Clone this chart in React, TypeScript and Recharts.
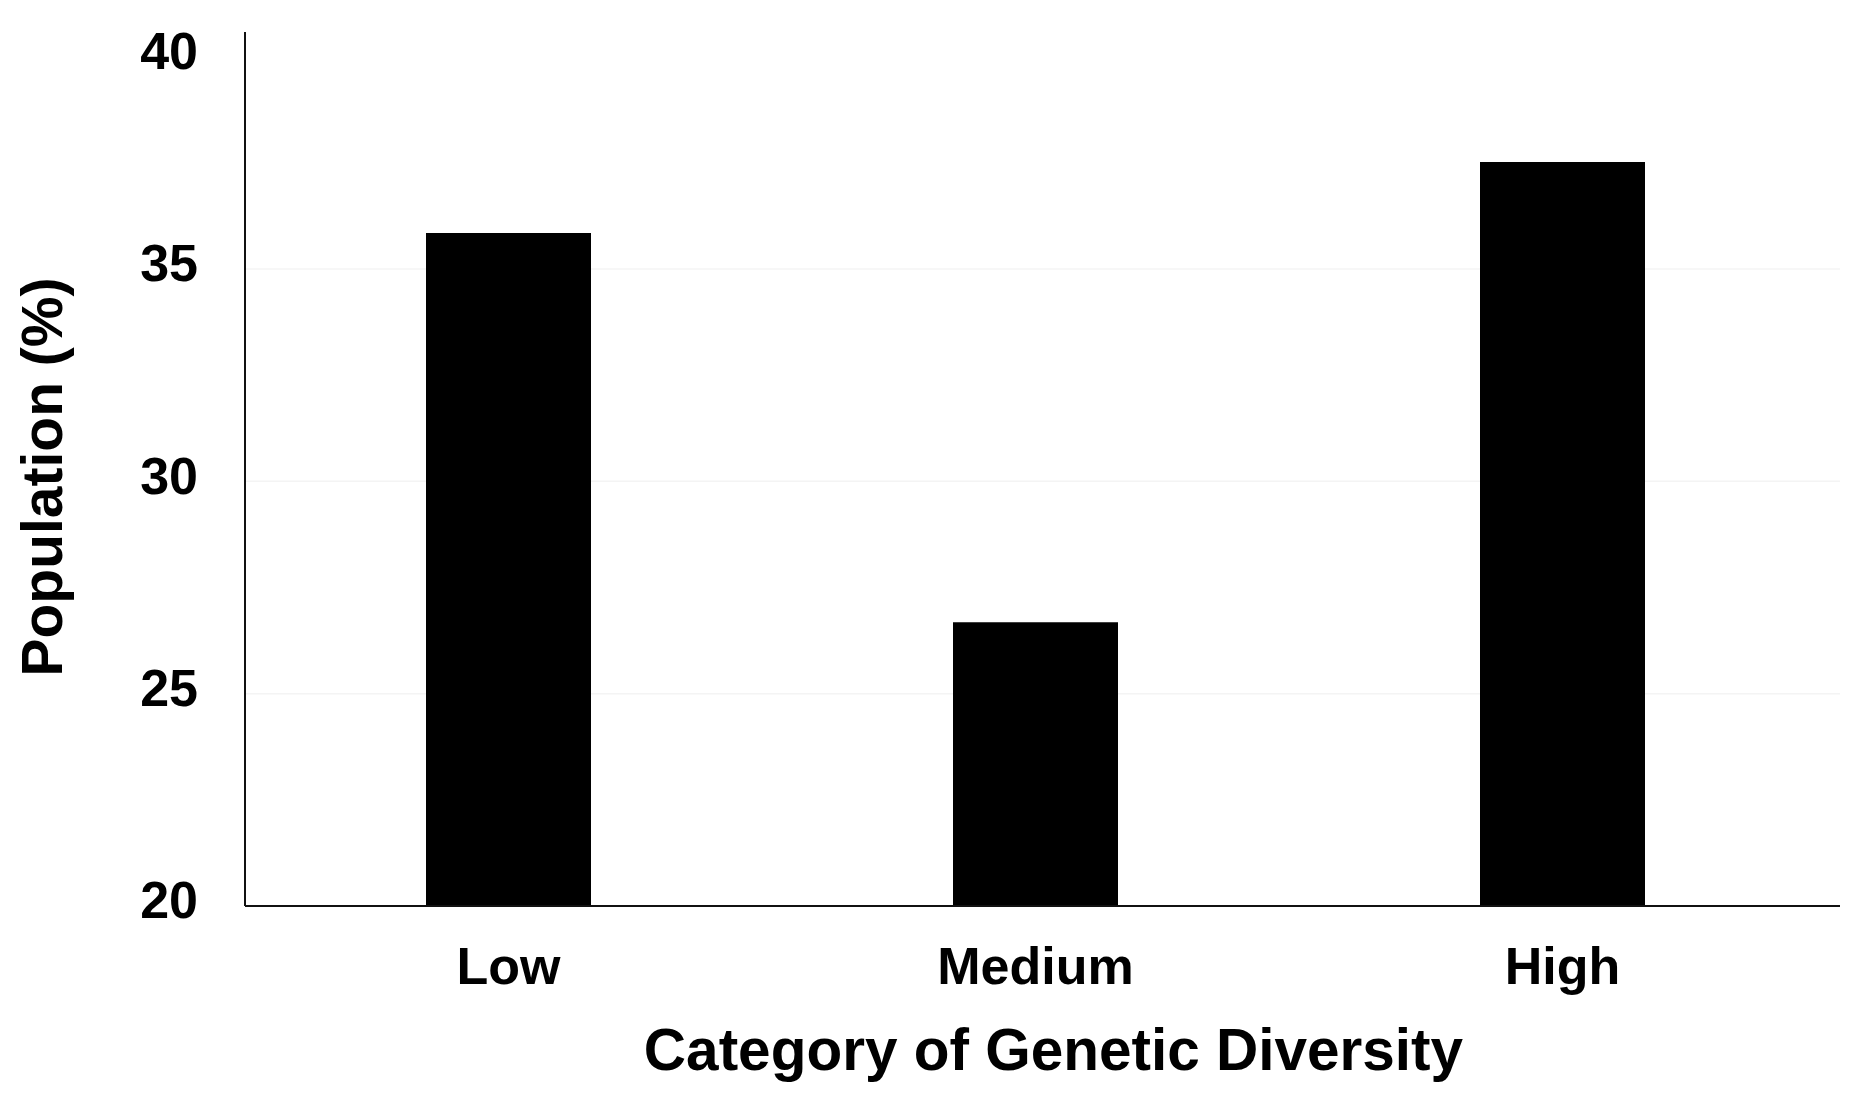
import { BarChart, Bar, XAxis, YAxis, CartesianGrid, Label } from 'recharts';

const categories = ['Low', 'Medium', 'High'];
const population = [35.85, 26.68, 37.52];
const yTicks = [20, 25, 30, 35, 40];
const gridValues = [25, 30, 35];

const data = categories.map((category, i) => ({ category, population: population[i] }));

const FONT = '"Liberation Sans", Arial, Helvetica, sans-serif';

const YTitle = ({ viewBox }: any) => {
  const cx = viewBox.x + 42;
  const cy = viewBox.y + viewBox.height / 2 + 8;
  return (
    <text
      x={cx}
      y={cy}
      transform={`rotate(-90, ${cx}, ${cy})`}
      textAnchor="middle"
      dominantBaseline="central"
      fontFamily={FONT}
      fontWeight="bold"
      fontSize={57}
      fill="#000"
    >
      Population (%)
    </text>
  );
};

export default function App() {
  return (
    <div style={{ position: 'absolute', left: 0, top: 0, background: '#fff' }}>
      <BarChart
        width={1855}
        height={1102}
        data={data}
        margin={{ top: 32, right: 15, bottom: 0, left: 0 }}
      >
        <CartesianGrid
          vertical={false}
          horizontalValues={gridValues}
          stroke="#f4f4f4"
          strokeWidth={1.5}
        />
        <XAxis
          dataKey="category"
          height={196}
          padding={{ left: 0, right: 14 }}
          axisLine={{ stroke: '#111', strokeWidth: 2 }}
          tickLine={false}
          tickSize={0}
          tickMargin={41}
          tick={{ fill: '#000', fontSize: 52, fontWeight: 'bold', fontFamily: FONT }}
        >
          <Label
            value="Category of Genetic Diversity"
            position="insideBottom"
            offset={32}
            dx={11}
            style={{ fill: '#000', fontSize: 58.5, fontWeight: 'bold', fontFamily: FONT }}
          />
        </XAxis>
        <YAxis
          width={245}
          domain={[20, 40.58]}
          ticks={yTicks}
          allowDataOverflow
          axisLine={{ stroke: '#111', strokeWidth: 2 }}
          tickLine={false}
          tickSize={0}
          tickMargin={47}
          tick={{ fill: '#000', fontSize: 52, fontWeight: 'bold', fontFamily: FONT, dy: -6 }}
        >
          <Label content={<YTitle />} />
        </YAxis>
        <Bar dataKey="population" fill="#000" barSize={165} isAnimationActive={false} />
      </BarChart>
    </div>
  );
}
